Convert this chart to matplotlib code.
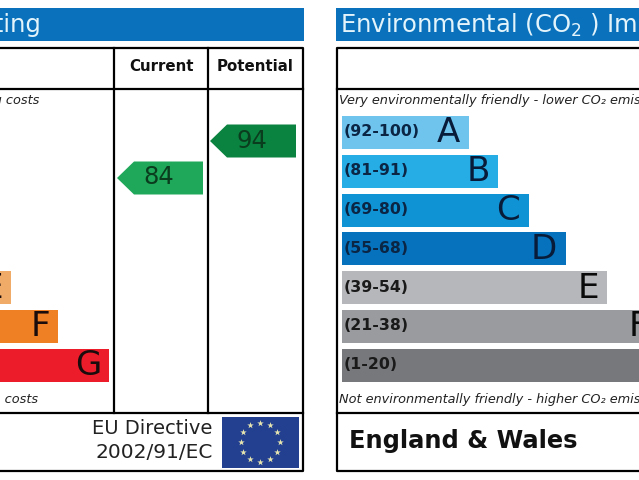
import numpy as np
import matplotlib
matplotlib.use('Agg')
import matplotlib.pyplot as plt
from matplotlib.patches import Polygon, Rectangle

plt.rcParams['font.family'] = 'DejaVu Sans'
plt.rcParams['mathtext.default'] = 'regular'

# Band data
env_letters = ['A', 'B', 'C', 'D', 'E', 'F', 'G']
env_ranges = ['(92-100)', '(81-91)', '(69-80)', '(55-68)', '(39-54)', '(21-38)', '(1-20)']
env_lengths = [127, 156.5, 187, 224, 265.5, 315, 360]
env_colors = ['#6fc4ee', '#27ade6', '#0f93d5', '#0672bd', '#b6b7ba', '#9a9b9e', '#77787b']

energy_letters = ['E', 'F', 'G']
energy_ends = [11, 57.5, 109]
energy_colors = ['#f0ab68', '#ef8023', '#ec1c2b']

ratings = [84, 94]
rating_colors = ['#20a85a', '#0b8340']

fig = plt.figure(figsize=(6.39, 4.8), dpi=100)
ax = fig.add_axes([0, 0, 1, 1])
ax.set_xlim(0, 639)
ax.set_ylim(480, 0)
ax.axis('off')

BLUE = '#0a72bd'
band_h = 33
band_y = lambda i: 132.5 + i * 38.8

# Title bars
ax.add_patch(Rectangle((-5, 7.5), 308.5, 33.5, color=BLUE, lw=0))
ax.add_patch(Rectangle((335.5, 7.5), 310, 33.5, color=BLUE, lw=0))
ax.text(41, 25, 'Energy Efficiency Rating', color='#e4f4fb', fontsize=17.5, ha='right', va='center')
ax.text(340, 25, 'Environmental (CO$_2$ ) Impact Rating', color='#e4f4fb', fontsize=17.5, ha='left', va='center')

# Table frames
lw = 1.6
ax.plot([-5, 303, 303, -5], [47.5, 47.5, 471, 471], color='black', lw=lw)
ax.plot([645, 336.5, 336.5, 645], [47.5, 47.5, 471, 471], color='black', lw=lw)
for x0, x1 in [(-5, 303), (336.5, 645)]:
    ax.plot([x0, x1], [89, 89], color='black', lw=lw)
    ax.plot([x0, x1], [412.5, 412.5], color='black', lw=lw)
for x in [113.5, 208]:
    ax.plot([x, x], [47.5, 412.5], color='black', lw=lw)

ax.text(161, 66.5, 'Current', fontsize=10.8, fontweight='bold', ha='center', va='center', color='#111111')
ax.text(255.5, 66.5, 'Potential', fontsize=10.8, fontweight='bold', ha='center', va='center', color='#111111')

# Energy bands (left panel is cut off by the image edge)
for i, (letter, end, col) in enumerate(zip(energy_letters, energy_ends, energy_colors)):
    y = band_y(i + 4)
    ax.barh(y, end + 5, left=-5, height=band_h, color=col, lw=0)
    ax.text(end - 7.5, y + 0.5, letter, fontsize=24.5, ha='right', va='center', color='#1a0c0c')

ax.text(39, 100.5, 'Very energy efficient - lower running costs', fontsize=9.3, style='italic',
        ha='right', va='center', color='#222222')
ax.text(38, 399, 'Not energy efficient - higher running costs', fontsize=9.3, style='italic',
        ha='right', va='center', color='#222222')

# Rating arrows, placed by value
for rating, col in zip(ratings, rating_colors):
    y = 141 + (94 - rating) * 3.7
    right = 296 if rating == 94 else 203
    width = 86
    ax.add_patch(Polygon([(right - width + 0.0, y), (right - width + 17, y - 16.5), (right, y - 16.5),
                          (right, y + 16.5), (right - width + 17, y + 16.5)], closed=True, color=col, lw=0))
    ax.text(right - 44, y - 0.5, str(rating), fontsize=17.5, ha='center', va='center', color='#0a3d1e')

# Environmental bands
for i in range(len(env_letters)):
    y = band_y(i)
    ax.barh(y, env_lengths[i], left=341.7, height=band_h, color=env_colors[i], lw=0)
    txt_col = '#0b2545' if i < 4 else '#1a1a1a'
    ax.text(344, y - 0.5, env_ranges[i], fontsize=11.3, fontweight='bold', ha='left', va='center', color=txt_col)
    ax.text(341.7 + env_lengths[i] - 8.5, y + 0.5, env_letters[i], fontsize=24.5, ha='right', va='center',
            color='#081c3a' if i < 4 else '#0a0a0a')

ax.text(339, 100.5, 'Very environmentally friendly - lower CO\u2082 emissions', fontsize=9.3, style='italic',
        ha='left', va='center', color='#222222')
ax.text(339, 399, 'Not environmentally friendly - higher CO\u2082 emissions', fontsize=9.3, style='italic',
        ha='left', va='center', color='#222222')

# Footer
ax.text(212, 429, 'EU Directive', fontsize=14, ha='right', va='center', color='#222222')
ax.text(213, 452, '2002/91/EC', fontsize=14.5, ha='right', va='center', color='#222222')
ax.text(349, 441, 'England & Wales', fontsize=17.4, fontweight='bold', ha='left', va='center', color='#111111')

# EU flag
ax.add_patch(Rectangle((222, 416.5), 76.5, 51, color='#22408f', lw=0))
angles = np.deg2rad(np.arange(0, 360, 30))
ax.scatter(260 + 19.5 * np.cos(angles), 442 + 19.5 * np.sin(angles), marker='*', s=24, color='#e8e6b0', lw=0)

fig.savefig('out.png', dpi=100)
